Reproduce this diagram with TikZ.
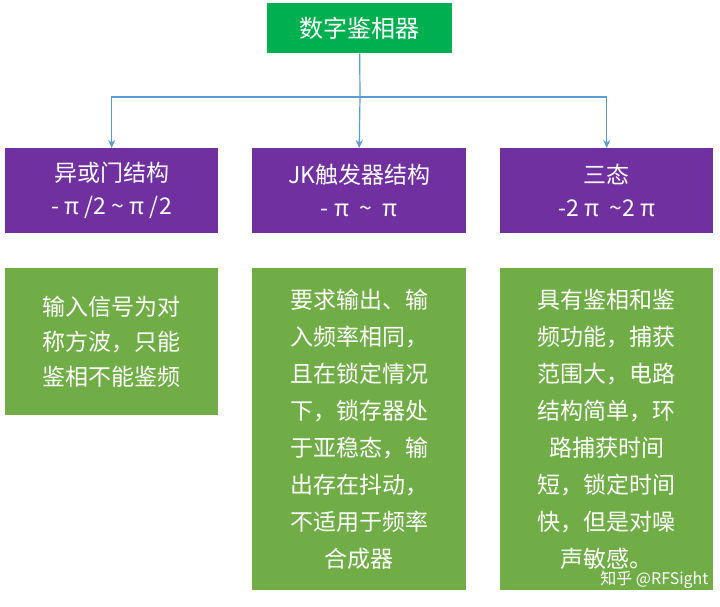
\documentclass[tikz,border=0pt]{standalone}
\usepackage{fontspec}
\setmainfont{Noto Sans CJK SC}
\usetikzlibrary{arrows.meta}
\definecolor{topg}{HTML}{00B050}
\definecolor{purp}{HTML}{7030A0}
\definecolor{leaf}{HTML}{70AD47}
\definecolor{lnk}{HTML}{5B9BD5}
\tikzset{
  box/.style={anchor=north west,inner sep=0pt,text=white,align=center,font=\fontsize{23}{33}\selectfont},
  conn/.style={draw=lnk,line width=1.2pt,-{Stealth[length=8pt,width=7pt]}}
}
\begin{document}
\begin{tikzpicture}[x=1pt,y=-1pt]
\useasboundingbox (0,0) rectangle (720,607);
\fill[white] (0,0) rectangle (720,607);
\node[box,fill=topg,minimum width=185pt,minimum height=50pt,font=\fontsize{24}{28}\selectfont] (top) at (267,3) {数字鉴相器};
\node[box,fill=purp,minimum width=213pt,minimum height=85pt] (p1) at (5,148) {异或门结构\\ - π /2 \textasciitilde{} π /2};
\node[box,fill=purp,minimum width=214pt,minimum height=85pt] (p2) at (252,148) {JK触发器结构\\ - π \ \textasciitilde{} \ π};
\node[box,fill=purp,minimum width=213pt,minimum height=85pt] (p3) at (500,148) {三态\\ -2 π \ \textasciitilde 2 π};
\node[box,fill=leaf,minimum width=213pt,minimum height=147pt,font=\fontsize{23}{35}\selectfont] (g1) at (5,268) {输入信号为对\\称方波，只能\\鉴相不能鉴频};
\node[box,fill=leaf,minimum width=214pt,minimum height=322pt,font=\fontsize{23}{37}\selectfont] (g2) at (252,268) {要求输出、输\\入频率相同，\\且在锁定情况\\下，锁存器处\\于亚稳态，输\\出存在抖动，\\不适用于频率\\合成器};
\node[box,fill=leaf,minimum width=213pt,minimum height=322pt,font=\fontsize{23}{37}\selectfont] (g3) at (500,268) {具有鉴相和鉴\\频功能，捕获\\范围大，电路\\结构简单，环\\路捕获时间\\短，锁定时间\\快，但是对噪\\声敏感。};
\coordinate (j) at (360,97);
\draw[lnk,line width=1.2pt] (top.south) -- (j);
\draw[conn] (j) -| (p1.north);
\draw[conn] (j) -| (p3.north);
\draw[conn] (j) -- (p2.north);
\node[anchor=south east,text=white,font=\fontsize{16}{18}\selectfont] (wm) at (712,592) {知乎 @RFSight};
\end{tikzpicture}
\end{document}
